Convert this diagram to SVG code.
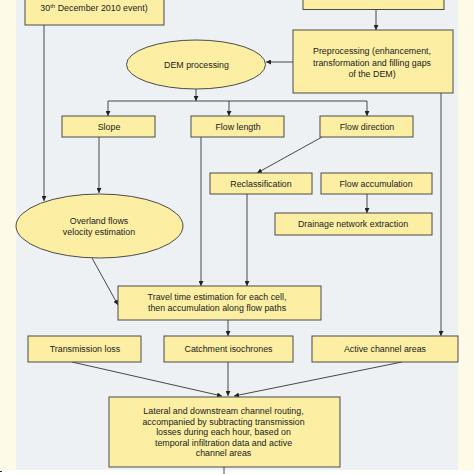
<svg xmlns="http://www.w3.org/2000/svg" width="474" height="474" viewBox="0 0 474 474">
<defs>
<marker id="ah" viewBox="0 0 10 10" refX="10" refY="5" markerWidth="5" markerHeight="5" orient="auto" markerUnits="userSpaceOnUse">
<path d="M0,0 L10,5 L0,10 z" fill="#222"/>
</marker>
<style>
.box{fill:#fcefa3;stroke:#4a4a4a;stroke-width:1}
.t{font-family:"Liberation Sans",Arial,sans-serif;font-size:8.85px;fill:#222;text-anchor:middle}
.c{fill:none;stroke:#333;stroke-width:0.9}
</style>
</defs>
<rect x="0" y="0" width="474" height="474" fill="#fefae8"/>
<rect x="16" y="0" width="442" height="470" fill="#eef1f4"/>
<rect x="0" y="470.5" width="474" height="3.5" fill="#ffffff"/>
<g id="connectors">
<line class="c" x1="44" y1="25" x2="44" y2="201" marker-end="url(#ah)"/>
<line class="c" x1="376" y1="10" x2="376" y2="30" marker-end="url(#ah)"/>
<line class="c" x1="293" y1="62" x2="266" y2="62" marker-end="url(#ah)"/>
<line class="c" x1="196" y1="89" x2="196" y2="101" marker-end="url(#ah)"/>
<line class="c" x1="108" y1="101" x2="367" y2="101"/>
<line class="c" x1="108" y1="101" x2="108" y2="116" marker-end="url(#ah)"/>
<line class="c" x1="229" y1="101" x2="229" y2="116" marker-end="url(#ah)"/>
<line class="c" x1="367" y1="101" x2="367" y2="116" marker-end="url(#ah)"/>
<line class="c" x1="99" y1="137" x2="99" y2="193" marker-end="url(#ah)"/>
<line class="c" x1="201" y1="137" x2="201" y2="286" marker-end="url(#ah)"/>
<line class="c" x1="322" y1="137" x2="257" y2="173" marker-end="url(#ah)"/>
<line class="c" x1="367" y1="194" x2="367" y2="213" marker-end="url(#ah)"/>
<line class="c" x1="247" y1="194" x2="247" y2="286" marker-end="url(#ah)"/>
<line class="c" x1="92" y1="258" x2="118" y2="305" marker-end="url(#ah)"/>
<line class="c" x1="228" y1="320" x2="228" y2="336" marker-end="url(#ah)"/>
<line class="c" x1="441" y1="93" x2="441" y2="336" marker-end="url(#ah)"/>
<line class="c" x1="72" y1="362" x2="222" y2="396" marker-end="url(#ah)"/>
<line class="c" x1="228" y1="362" x2="228" y2="396" marker-end="url(#ah)"/>
<line class="c" x1="402" y1="362" x2="234" y2="396" marker-end="url(#ah)"/>
<line class="c" x1="224" y1="467" x2="224" y2="474"/>
<line x1="0" y1="471.5" x2="2" y2="471.5" stroke="#222" stroke-width="1"/>
</g>
<g id="rainfall">
<rect class="box" x="25" y="-5" width="139" height="30"/>
<text class="t" x="94" y="11">30<tspan dy="-3" font-size="6">th</tspan><tspan dy="3"> December 2010 event)</tspan></text>
</g>
<g id="dem-source">
<rect class="box" x="303" y="-5" width="141" height="14.5"/>
</g>
<g id="preprocessing">
<rect class="box" x="293" y="30" width="160" height="63"/>
<text class="t" x="372" y="53.5">Preprocessing (enhancement,</text>
<text class="t" x="372" y="65.5">transformation and filling gaps</text>
<text class="t" x="372" y="77">of the DEM)</text>
</g>
<g id="dem-processing">
<ellipse class="box" cx="196" cy="64.5" rx="69.5" ry="24.5"/>
<text class="t" x="196.5" y="67.5">DEM processing</text>
</g>
<g id="slope">
<rect class="box" x="62" y="116" width="93" height="21"/>
<text class="t" x="109" y="129.5">Slope</text>
</g>
<g id="flow-length">
<rect class="box" x="191" y="116" width="93" height="21"/>
<text class="t" x="238" y="129.5">Flow length</text>
</g>
<g id="flow-direction">
<rect class="box" x="320" y="116" width="93" height="21"/>
<text class="t" x="367" y="129.5">Flow direction</text>
</g>
<g id="reclassification">
<rect class="box" x="210" y="173" width="102" height="21"/>
<text class="t" x="261" y="186.5">Reclassification</text>
</g>
<g id="flow-accumulation">
<rect class="box" x="321" y="173" width="111" height="21"/>
<text class="t" x="376" y="186.5">Flow accumulation</text>
</g>
<g id="drainage">
<rect class="box" x="275" y="213" width="157" height="22"/>
<text class="t" x="353" y="227">Drainage network extraction</text>
</g>
<g id="overland">
<ellipse class="box" cx="99.5" cy="226" rx="83.5" ry="32"/>
<text class="t" x="99" y="224">Overland flows</text>
<text class="t" x="99" y="234.5">velocity estimation</text>
</g>
<g id="travel-time">
<rect class="box" x="118" y="286" width="203" height="34"/>
<text class="t" x="217" y="300">Travel time estimation for each cell,</text>
<text class="t" x="217" y="311">then accumulation along flow paths</text>
</g>
<g id="transmission-loss">
<rect class="box" x="28" y="336" width="113" height="26"/>
<text class="t" x="85" y="352">Transmission loss</text>
</g>
<g id="catchment">
<rect class="box" x="164" y="336" width="129" height="26"/>
<text class="t" x="228.5" y="352">Catchment isochrones</text>
</g>
<g id="active-channel">
<rect class="box" x="312" y="336" width="146" height="26"/>
<text class="t" x="385" y="352">Active channel areas</text>
</g>
<g id="routing">
<rect class="box" x="109" y="397" width="231" height="70"/>
<text class="t" x="223.5" y="414">Lateral and downstream channel routing,</text>
<text class="t" x="223.5" y="424.5">accompanied by subtracting transmission</text>
<text class="t" x="223.5" y="435">losses during each hour, based on</text>
<text class="t" x="223.5" y="445.5">temporal infiltration data and active</text>
<text class="t" x="223.5" y="456">channel areas</text>
</g>
</svg>
